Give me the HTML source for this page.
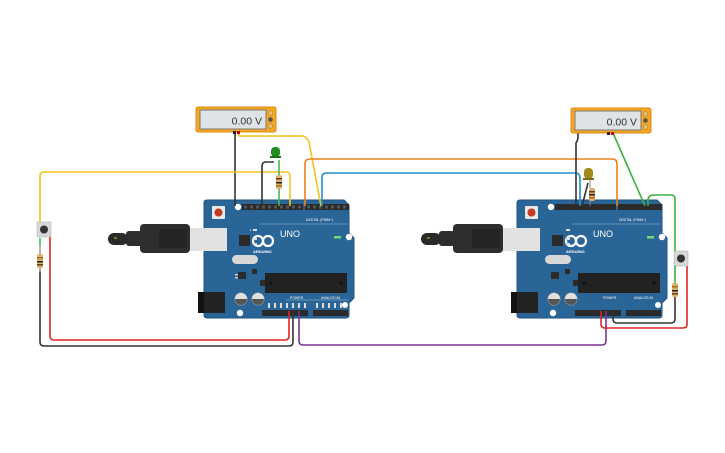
<!DOCTYPE html>
<html><head><meta charset="utf-8"><style>
html,body{margin:0;padding:0;background:#fff;width:725px;height:453px;overflow:hidden}
svg{display:block}
text{font-family:"Liberation Sans",sans-serif}
</style></head><body>
<svg width="725" height="453" viewBox="0 0 725 453" xmlns="http://www.w3.org/2000/svg">
<defs>
<g id="pinsT"><rect x="0" y="0" width="6" height="6" fill="#2b2b2b"/></g>
</defs>

<!-- ===== LEFT BOARD ===== -->
<g transform="translate(204,200)">
  <path d="M3,0 H140 L145,5 V33 L150,38 V98 L145,103 V115 Q145,118 142,118 H3 Q0,118 0,115 V3 Q0,0 3,0Z" fill="#2a6597" stroke="#1f5280" stroke-width="1"/>
  <circle cx="34" cy="7" r="3.2" fill="#fff"/>
  <circle cx="145" cy="37" r="3.2" fill="#fff"/>
  <circle cx="36" cy="113" r="3.2" fill="#fff"/>
  <circle cx="141" cy="105" r="3" fill="#fff"/>
  <rect x="38" y="4" width="61" height="6" fill="#2b2b2b"/>
  <rect x="101" y="4" width="44" height="6" fill="#2b2b2b"/>
  <g fill="#555"><rect x="40" y="5.5" width="3" height="3"/><rect x="46" y="5.5" width="3" height="3"/><rect x="52" y="5.5" width="3" height="3"/><rect x="58" y="5.5" width="3" height="3"/><rect x="64" y="5.5" width="3" height="3"/><rect x="70" y="5.5" width="3" height="3"/><rect x="76" y="5.5" width="3" height="3"/><rect x="82" y="5.5" width="3" height="3"/><rect x="88" y="5.5" width="3" height="3"/><rect x="94" y="5.5" width="3" height="3"/><rect x="103" y="5.5" width="3" height="3"/><rect x="109" y="5.5" width="3" height="3"/><rect x="115" y="5.5" width="3" height="3"/><rect x="121" y="5.5" width="3" height="3"/><rect x="127" y="5.5" width="3" height="3"/><rect x="133" y="5.5" width="3" height="3"/><rect x="139" y="5.5" width="3" height="3"/></g>
  <text x="102" y="21" font-size="3.5" fill="#fff">DIGITAL (PWM~)</text>
  <line x1="55" y1="24" x2="144" y2="24" stroke="#9cc0dd" stroke-width="0.6"/>
  <rect x="8" y="6" width="13" height="13" rx="1" fill="#e8e8e8"/>
  <circle cx="14.5" cy="12.5" r="4" fill="#c23b22"/>
  <g transform="translate(59,41)"><circle cx="-5" cy="0" r="5" fill="none" stroke="#fff" stroke-width="2.2"/><circle cx="5" cy="0" r="5" fill="none" stroke="#fff" stroke-width="2.2"/></g>
  <text x="49" y="53" font-size="4" font-weight="bold" fill="#fff">ARDUINO</text>
  <text x="76" y="37" font-size="9" fill="#fff">UNO</text>
  <rect x="130" y="36" width="7" height="2.5" fill="#6fdc6f"/>
  <text x="46" y="31" font-size="3" fill="#fff">L</text>
  <rect x="49" y="29" width="4" height="2" fill="#ddd"/>
  <rect x="49" y="38" width="4" height="2" fill="#ddd"/><rect x="49" y="43" width="4" height="2" fill="#ddd"/>
  <rect x="35" y="35" width="11" height="11" fill="#2b2b2b"/>
  <rect x="28" y="55" width="26" height="9" rx="4.5" fill="#d8d8d8"/>
  <rect x="34" y="72" width="8" height="7" fill="#2b2b2b"/>
  <rect x="31" y="74" width="3" height="1.5" fill="#ccc"/><rect x="31" y="77" width="3" height="1.5" fill="#ccc"/>
  <rect x="48" y="69" width="5" height="5" fill="#2b2b2b"/>
  <rect x="56" y="80" width="5" height="6" fill="#2b2b2b"/>
  <rect x="61" y="73" width="82" height="20" fill="#222"/>
  <circle cx="67" cy="83" r="1.6" fill="#111"/><circle cx="137" cy="83" r="1.6" fill="#111"/>
  <circle cx="37" cy="99" r="6.3" fill="#e0e0e0" stroke="#999" stroke-width=".5"/>
  <path d="M31,99 a6,6 0 0,0 12,0Z" fill="#555"/>
  <circle cx="54" cy="99" r="6.3" fill="#e0e0e0" stroke="#999" stroke-width=".5"/>
  <path d="M48,99 a6,6 0 0,0 12,0Z" fill="#555"/>
  <rect x="-6" y="92" width="27" height="21" fill="#222"/>
  <rect x="-6" y="92" width="6" height="21" fill="#111"/>
  <text x="86" y="99" font-size="3.5" fill="#fff">POWER</text>
  <text x="117" y="99" font-size="3.5" fill="#fff">ANALOG IN</text>
  <line x1="82" y1="100" x2="145" y2="100" stroke="#9cc0dd" stroke-width="0.5"/>
  <rect x="58" y="110" width="46" height="6" fill="#2b2b2b"/>
  <rect x="109" y="110" width="35" height="6" fill="#2b2b2b"/>
  <g fill="#ddd"><rect x="64" y="103" width="2" height="5"/><rect x="70" y="103" width="2" height="5"/><rect x="76" y="103" width="2" height="5"/><rect x="82" y="103" width="2" height="5"/><rect x="88" y="103" width="2" height="5"/><rect x="94" y="103" width="2" height="5"/><rect x="100" y="103" width="2" height="5"/><rect x="112" y="103" width="2" height="5"/><rect x="118" y="103" width="2" height="5"/><rect x="124" y="103" width="2" height="5"/><rect x="130" y="103" width="2" height="5"/><rect x="136" y="103" width="2" height="5"/></g>
  <!-- USB -->
  <rect x="-16" y="28" width="39" height="23" fill="#e2e2e2"/>
  <rect x="-64" y="24" width="50" height="29" rx="4" fill="#2e2e2e"/>
  <rect x="-45" y="29" width="28" height="19" fill="#252525"/>
  <rect x="-78" y="31" width="16" height="15" rx="3" fill="#2e2e2e"/>
  <rect x="-96" y="33" width="20" height="12" rx="6" fill="#2a2a2a"/>
  <line x1="-90" y1="38" x2="-87" y2="38" stroke="#d4c020" stroke-width="1"/>
</g>

<!-- ===== RIGHT BOARD ===== -->
<g transform="translate(517,200)">
  <path d="M3,0 H140 L145,5 V33 L150,38 V98 L145,103 V115 Q145,118 142,118 H3 Q0,118 0,115 V3 Q0,0 3,0Z" fill="#2a6597" stroke="#1f5280" stroke-width="1"/>
  <circle cx="34" cy="7" r="3.2" fill="#fff"/>
  <circle cx="145" cy="37" r="3.2" fill="#fff"/>
  <circle cx="36" cy="113" r="3.2" fill="#fff"/>
  <circle cx="141" cy="105" r="3" fill="#fff"/>
  <rect x="38" y="4" width="61" height="6" fill="#2b2b2b"/>
  <rect x="101" y="4" width="44" height="6" fill="#2b2b2b"/>
  <text x="102" y="21" font-size="3.5" fill="#fff">DIGITAL (PWM~)</text>
  <line x1="55" y1="24" x2="144" y2="24" stroke="#9cc0dd" stroke-width="0.6"/>
  <rect x="8" y="6" width="13" height="13" rx="1" fill="#e8e8e8"/>
  <circle cx="14.5" cy="12.5" r="4" fill="#c23b22"/>
  <g transform="translate(59,41)"><circle cx="-5" cy="0" r="5" fill="none" stroke="#fff" stroke-width="2.2"/><circle cx="5" cy="0" r="5" fill="none" stroke="#fff" stroke-width="2.2"/></g>
  <text x="49" y="53" font-size="4" font-weight="bold" fill="#fff">ARDUINO</text>
  <text x="76" y="37" font-size="9" fill="#fff">UNO</text>
  <rect x="130" y="36" width="7" height="2.5" fill="#6fdc6f"/>
  <rect x="49" y="29" width="4" height="2" fill="#ddd"/>
  <rect x="49" y="38" width="4" height="2" fill="#ddd"/><rect x="49" y="43" width="4" height="2" fill="#ddd"/>
  <rect x="35" y="35" width="11" height="11" fill="#2b2b2b"/>
  <rect x="28" y="55" width="26" height="9" rx="4.5" fill="#d8d8d8"/>
  <rect x="34" y="72" width="8" height="7" fill="#2b2b2b"/>
  <rect x="48" y="69" width="5" height="5" fill="#2b2b2b"/>
  <rect x="56" y="80" width="5" height="6" fill="#2b2b2b"/>
  <rect x="61" y="73" width="82" height="20" fill="#222"/>
  <circle cx="67" cy="83" r="1.6" fill="#111"/><circle cx="137" cy="83" r="1.6" fill="#111"/>
  <circle cx="37" cy="99" r="6.3" fill="#e0e0e0" stroke="#999" stroke-width=".5"/>
  <path d="M31,99 a6,6 0 0,0 12,0Z" fill="#555"/>
  <circle cx="54" cy="99" r="6.3" fill="#e0e0e0" stroke="#999" stroke-width=".5"/>
  <path d="M48,99 a6,6 0 0,0 12,0Z" fill="#555"/>
  <rect x="-6" y="92" width="27" height="21" fill="#222"/>
  <rect x="-6" y="92" width="6" height="21" fill="#111"/>
  <text x="86" y="99" font-size="3.5" fill="#fff">POWER</text>
  <text x="117" y="99" font-size="3.5" fill="#fff">ANALOG IN</text>
  <rect x="58" y="110" width="46" height="6" fill="#2b2b2b"/>
  <rect x="109" y="110" width="35" height="6" fill="#2b2b2b"/>
  <rect x="-16" y="28" width="39" height="23" fill="#e2e2e2"/>
  <rect x="-64" y="24" width="50" height="29" rx="4" fill="#2e2e2e"/>
  <rect x="-45" y="29" width="28" height="19" fill="#252525"/>
  <rect x="-78" y="31" width="16" height="15" rx="3" fill="#2e2e2e"/>
  <rect x="-96" y="33" width="20" height="12" rx="6" fill="#2a2a2a"/>
  <line x1="-90" y1="38" x2="-87" y2="38" stroke="#d4c020" stroke-width="1"/>
</g>

<!-- ===== WIRES ===== -->
<g fill="none" stroke-width="1.6" stroke-linejoin="round">
  <!-- left -->
  <path d="M235,132 V206" stroke="#333"/>
  <path d="M239,132 V136 H303 Q307,137 309,142 L321,206" stroke="#f0c419"/>
  <path d="M305,206 V164 Q305,159 310,159 H612 Q617,159 617,164 V206" stroke="#e8841c"/>
  <path d="M322,206 V177 Q322,173 327,173 H575 Q580,173 580,178 V206" stroke="#1e90c8"/>
  <path d="M290,206 V176 Q290,172 286,172 H44 Q40,172 40,176 V224" stroke="#f0c419"/>
  <path d="M262,206 V166 Q262,162 266,162 H274" stroke="#333"/>
  <path d="M279,160 V206" stroke="#49b94a"/>
  <path d="M40,238 V246" stroke="#49b94a"/>
  <path d="M50,236 V336 Q50,340 54,340 H285 Q289,340 289,336 V311" stroke="#e02424"/>
  <path d="M40,270 V342 Q40,346 44,346 H289 Q293,346 293,342 V311" stroke="#333"/>
  <path d="M299,311 V341 Q299,345 303,345 H602 Q606,345 606,341 V311" stroke="#7b3294"/>
  <!-- right -->
  <path d="M578,133 V137 Q578,140 576,143 V206" stroke="#333"/>
  <path d="M582,206 L588,183" stroke="#333"/>
  <path d="M613,133 L645,206" stroke="#3cb043"/>
  <path d="M648,206 V199 Q649,195 654,195 H671 Q675,195 675,199 V253" stroke="#3cb043"/>
  <path d="M675,296 V319 Q675,323 671,323 H617 Q613,323 613,319 V311" stroke="#333"/>
  <path d="M687,263 V324 Q687,328 683,328 H605 Q601,328 601,324 V311" stroke="#e02424"/>
</g>

<!-- LEDs & resistors -->
<g>
  <rect x="271" y="147" width="9" height="10" rx="4" fill="#1e8f1e"/>
  <rect x="270" y="156" width="11" height="2" fill="#177017"/>
  <rect x="276" y="175" width="6" height="14" rx="2" fill="#d9b36c"/>
  <rect x="276" y="178" width="6" height="1.5" fill="#6b3a1a"/><rect x="276" y="182" width="6" height="1.5" fill="#222"/><rect x="276" y="185" width="6" height="1.5" fill="#b5651d"/>
  <rect x="584" y="168" width="9" height="11" rx="4" fill="#a08a1c"/>
  <rect x="583" y="178" width="11" height="2" fill="#7d6c14"/>
  <path d="M590,180 V206" stroke="#888" stroke-width="1"/>
  <rect x="589" y="188" width="6" height="13" rx="2" fill="#d9b36c"/>
  <rect x="589" y="191" width="6" height="1.5" fill="#6b3a1a"/><rect x="589" y="194" width="6" height="1.5" fill="#222"/><rect x="589" y="197" width="6" height="1.5" fill="#b5651d"/>
  <!-- left button -->
  <rect x="37" y="222" width="14" height="15" fill="#d8d8d8" stroke="#aaa" stroke-width=".5"/>
  <circle cx="44" cy="229.5" r="4" fill="#333"/>
  <rect x="37" y="254" width="6" height="14" rx="2" fill="#d9b36c"/>
  <rect x="37" y="257" width="6" height="1.5" fill="#b5651d"/><rect x="37" y="261" width="6" height="1.5" fill="#222"/><rect x="37" y="264" width="6" height="1.5" fill="#6b3a1a"/>
  <path d="M40,246 V254 M40,268 V272" stroke="#999" stroke-width="1.4"/>
  <!-- right button -->
  <rect x="674" y="251" width="14" height="15" fill="#d8d8d8" stroke="#aaa" stroke-width=".5"/>
  <circle cx="681" cy="258.5" r="4" fill="#333"/>
  <rect x="672" y="283" width="6" height="14" rx="2" fill="#d9b36c"/>
  <rect x="672" y="286" width="6" height="1.5" fill="#b5651d"/><rect x="672" y="290" width="6" height="1.5" fill="#222"/><rect x="672" y="293" width="6" height="1.5" fill="#6b3a1a"/>
  <path d="M675,266 V283" stroke="#3cb043" stroke-width="1.6"/>
</g>

<!-- Multimeters -->
<g>
  <rect x="196" y="107" width="80" height="25" rx="2" fill="#f5a623" stroke="#d88c10"/>
  <rect x="200" y="110" width="66" height="19" fill="#dde3e6" stroke="#7a7a7a"/>
  <text x="262" y="124.5" font-size="10.5" text-anchor="end" fill="#333">0.00 V</text>
  <circle cx="270.5" cy="113" r="2.3" fill="#f0c060" stroke="#777" stroke-width=".5"/>
  <circle cx="270.5" cy="119.5" r="2.3" fill="#555"/>
  <circle cx="270.5" cy="126" r="2.3" fill="#f0c060" stroke="#777" stroke-width=".5"/>
  <rect x="233" y="131" width="3" height="3" fill="#222"/><rect x="237" y="131" width="3" height="3" fill="#c00"/>

  <rect x="571" y="108" width="80" height="25" rx="2" fill="#f5a623" stroke="#d88c10"/>
  <rect x="575" y="111" width="66" height="19" fill="#dde3e6" stroke="#7a7a7a"/>
  <text x="637" y="125.5" font-size="10.5" text-anchor="end" fill="#333">0.00 V</text>
  <circle cx="645.5" cy="114" r="2.3" fill="#f0c060" stroke="#777" stroke-width=".5"/>
  <circle cx="645.5" cy="120.5" r="2.3" fill="#555"/>
  <circle cx="645.5" cy="127" r="2.3" fill="#f0c060" stroke="#777" stroke-width=".5"/>
  <rect x="607" y="132" width="3" height="3" fill="#222"/><rect x="611" y="132" width="3" height="3" fill="#c00"/>
</g>
</svg>
</body></html>
